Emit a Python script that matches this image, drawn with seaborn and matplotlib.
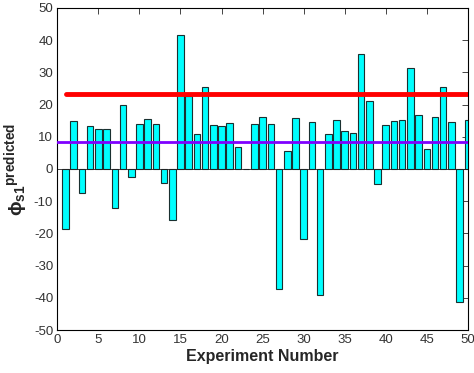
import numpy as np
import pandas as pd
import matplotlib
matplotlib.use("Agg")
import matplotlib.pyplot as plt
import seaborn as sns

experimento = list(range(1, 51))
phi_pred = [-18.5, 15.0, -7.5, 13.3, 12.5, 12.5, -12.0, 19.7, -2.5, 14.0,
            15.5, 14.0, -4.2, -15.7, 41.7, 22.5, 11.0, 25.3, 13.5, 13.2,
            14.3, 6.7, 0.0, 14.0, 16.0, 14.0, -37.3, 5.5, 15.8, -21.7,
            14.7, -39.0, 10.8, 15.3, 11.7, 11.3, 35.7, 21.0, -4.7, 13.7,
            15.0, 15.3, 31.3, 16.8, 6.2, 16.0, 25.5, 14.5, -41.3, 15.3]

# linhas de referencia
linha_vermelha = 23.2
linha_roxa = 8.3

df = pd.DataFrame({'exp': experimento, 'phi': phi_pred})

sns.set_style('white')
plt.rcParams['font.family'] = ['Liberation Sans', 'DejaVu Sans']
plt.rcParams['axes.unicode_minus'] = False
plt.rcParams['mathtext.fontset'] = 'custom'
plt.rcParams['mathtext.rm'] = 'Liberation Sans'
plt.rcParams['mathtext.it'] = 'Liberation Sans:italic'
plt.rcParams['mathtext.bf'] = 'Liberation Sans:bold'

fig, ax = plt.subplots(figsize=(4.74, 3.73), dpi=100)
fig.subplots_adjust(left=0.121, right=0.987, top=0.979, bottom=0.115)

sns.barplot(data=df, x='exp', y='phi', native_scale=True, color='#00FFFF',
            saturation=1, edgecolor='#1a3030', linewidth=0.8, width=0.8, ax=ax)

ax.plot([1, 50], [linha_vermelha, linha_vermelha], color='#FF0000', linewidth=3.5, zorder=5)
ax.plot([0, 50], [linha_roxa, linha_roxa], color='#7F00FF', linewidth=2, zorder=5)
ax.axhline(0, color='#222222', linewidth=0.6, zorder=1)

ax.set_xlim(0, 50)
ax.set_ylim(-50, 50)
ax.set_xticks(range(0, 51, 5))
ax.set_yticks(range(-50, 51, 10))
ax.tick_params(direction='in', top=True, right=True, length=4, labelsize=9.5,
               labelcolor='#333333', width=0.6, pad=3)
for s in ax.spines.values():
    s.set_linewidth(0.8)
    s.set_color('black')

ax.set_xlabel('Experiment Number', fontsize=11.5, fontweight='bold', labelpad=2)
ax.set_ylabel(r'$\mathbf{\phi_{s1}{}^{predicted}}$', fontsize=14)
ax.yaxis.set_label_coords(-0.066, 0.5)

fig.savefig('out.png')
